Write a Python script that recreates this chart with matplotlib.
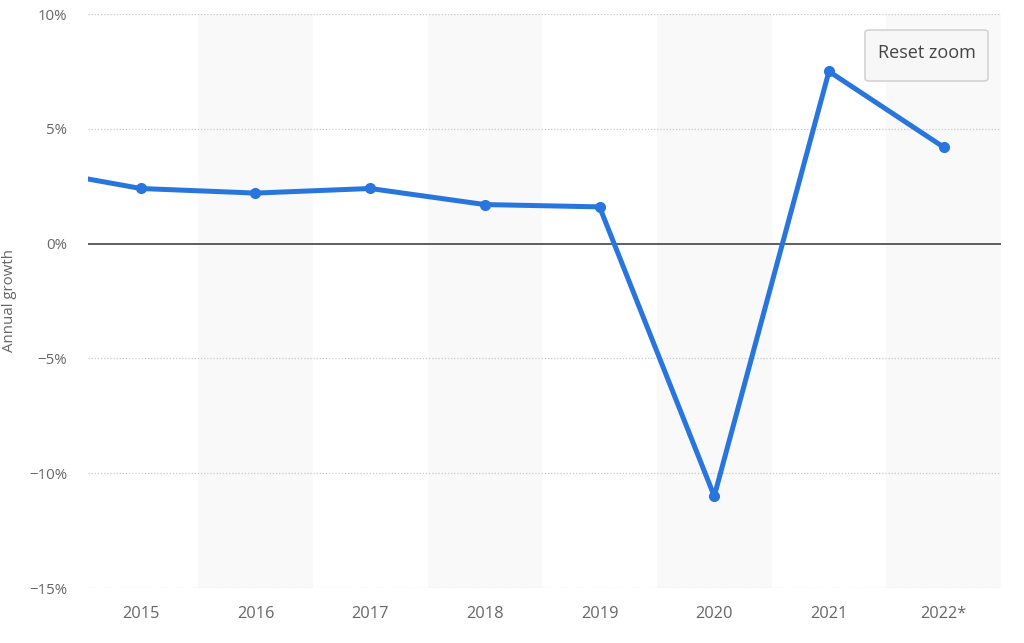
import matplotlib
matplotlib.use("Agg")
import matplotlib.pyplot as plt
from matplotlib.patches import FancyBboxPatch
from matplotlib.ticker import FuncFormatter

# data (2014 only shows as the clipped start of the line)
years = [2014, 2015, 2016, 2017, 2018, 2019, 2020, 2021, 2022]
growth = [3.3, 2.4, 2.2, 2.4, 1.7, 1.6, -11.0, 7.5, 4.2]
tick_years = [2015, 2016, 2017, 2018, 2019, 2020, 2021, 2022]
tick_labels = ["2015", "2016", "2017", "2018", "2019", "2020", "2021", "2022*"]
shaded_years = [2016, 2018, 2020, 2022]
y_ticks = [-15, -10, -5, 0, 5, 10]

plt.rcParams["font.family"] = ["Open Sans", "DejaVu Sans"]

fig = plt.figure(figsize=(10.24, 6.43), dpi=100)
ax = fig.add_axes([88 / 1024, 1 - 588 / 643, (1001 - 88) / 1024, (588 - 14) / 643])

for yr in shaded_years:
    ax.axvspan(yr - 0.5, yr + 0.5, color="#f9f9f9", zorder=0, lw=0)

for t in y_ticks:
    if t == 0:
        ax.axhline(t, color="#333333", lw=1.1, zorder=1)
    else:
        ax.axhline(t, color="#c8c8c8", lw=0.9, ls=(0, (1, 1.5)), zorder=1)

ax.plot(years, growth, color="#2876dd", lw=3.6, marker="o", markersize=7,
        solid_capstyle="round", solid_joinstyle="round", zorder=3)

ax.set_xlim(2014.54, 2022.5)
ax.set_ylim(-15, 10)
ax.set_xticks(tick_years)
ax.set_xticklabels(tick_labels)
ax.set_yticks(y_ticks)
ax.yaxis.set_major_formatter(FuncFormatter(lambda v, p: f"{v:.0f}%".replace("-", "\u2212")))
ax.tick_params(axis="both", length=0, colors="#666666")
ax.tick_params(axis="x", pad=13, labelsize=11.8)
ax.tick_params(axis="y", pad=15, labelsize=10.8)
for s in ax.spines.values():
    s.set_visible(False)

fig.text(10 / 1024, 1 - 300 / 643, "Annual growth", rotation=90, ha="center", va="center",
         fontsize=10.8, color="#666666")

# "Reset zoom" button
btn = FancyBboxPatch((865 / 1024, 1 - 81 / 643), (988 - 865) / 1024, (81 - 30) / 643,
                     boxstyle="round,pad=0,rounding_size=0.004", transform=fig.transFigure,
                     facecolor="#f7f7f7", edgecolor="#cccccc", lw=1, zorder=5)
fig.add_artist(btn)
fig.text(926.5 / 1024, 1 - 53 / 643, "Reset zoom", ha="center", va="center",
         fontsize=13, color="#444444", zorder=6)

fig.savefig("out.png", dpi=100)
